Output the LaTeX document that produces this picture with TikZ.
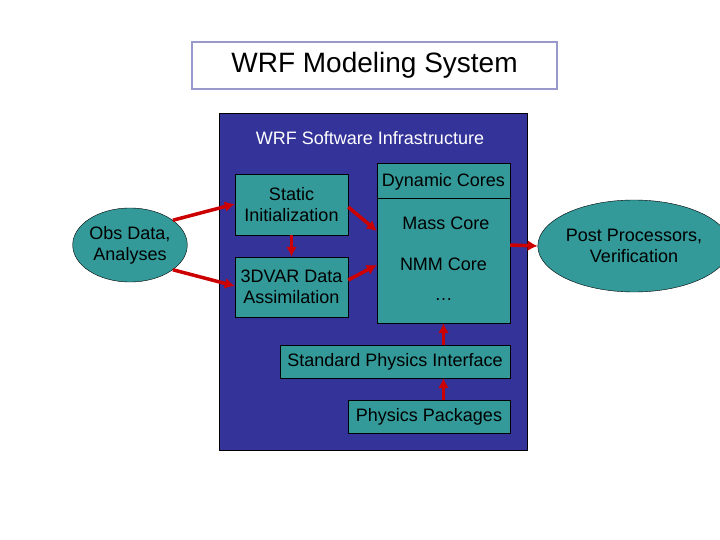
\documentclass[tikz,border=0pt]{standalone}
\usepackage{fontspec}
\setmainfont{Liberation Sans}
\usetikzlibrary{shapes.geometric,arrows.meta}
\definecolor{infra}{HTML}{333399}
\definecolor{teal}{HTML}{339999}
\definecolor{arr}{HTML}{CC0000}
\definecolor{frame}{HTML}{9999CC}
\begin{document}
\begin{tikzpicture}[x=1pt,y=-1pt,
  lbl/.style={font=\fontsize{18}{21}\selectfont},
  box/.style={lbl,draw=black,fill=teal,inner sep=0pt,align=center},
  oval/.style={lbl,ellipse,draw=black,fill=teal,inner sep=0pt,align=center},
  link/.style={draw=arr,line width=3.5pt,-{Latex[length=10pt,width=11pt]}}]
\useasboundingbox (0,0) rectangle (720,540);
\node[draw=frame,line width=1.2pt,minimum width=365pt,minimum height=47pt,font=\fontsize{28}{32}\selectfont] (title) at (374.5,65.5) {WRF Modeling System};
\node[draw=black,fill=infra,minimum width=308pt,minimum height=337pt,inner sep=0pt] (infra) at (373,281.5) {};
\node[lbl,text=white] (infralbl) at (370,138) {WRF Software Infrastructure};
\node[box,minimum width=113pt,minimum height=61pt] (static) at (291.5,204.5) {Static\\Initialization};
\node[box,minimum width=113pt,minimum height=60pt] (var) at (291.5,287) {3DVAR Data\\Assimilation};
\node[box,minimum width=133pt,minimum height=160pt] (dyn) at (443.5,243) {};
\draw (377,198) -- (510,198);
\node[lbl] (dynlbl) at (443.5,182) {Dynamic Cores};
\node[lbl] (mass) at (446,223) {Mass Core};
\node[lbl] (nmm) at (443.5,264) {NMM Core};
\node[lbl] (dots) at (443.5,300) {\dots};
\node[box,minimum width=230pt,minimum height=33pt] (std) at (395,361.5) {Standard Physics Interface};
\node[box,minimum width=162pt,minimum height=33pt] (pkg) at (429,416.5) {Physics Packages};
\node[oval,minimum width=104pt,minimum height=74pt] (obs) at (130,245) {Obs Data,\\Analyses};
\node[oval,minimum width=156pt,minimum height=92pt] (post) at (634,246) {Post Processors,\\Verification};
\draw[link] (obs.30) -- (static.west |- 0,204);
\draw[link] (obs.-30) -- (var.west |- 0,286);
\draw[link] (static.south) -- (var.north);
\draw[link] (static.east |- 0,207) -- (dyn.west |- 0,231);
\draw[link] (var.east |- 0,280) -- (dyn.west |- 0,265);
\draw[link] (dyn.east |- 0,245) -- (post.west);
\draw[link] (std.north -| dyn.south) -- (dyn.south);
\draw[link] (pkg.north -| dyn.south) -- (std.south -| dyn.south);
\end{tikzpicture}
\end{document}
